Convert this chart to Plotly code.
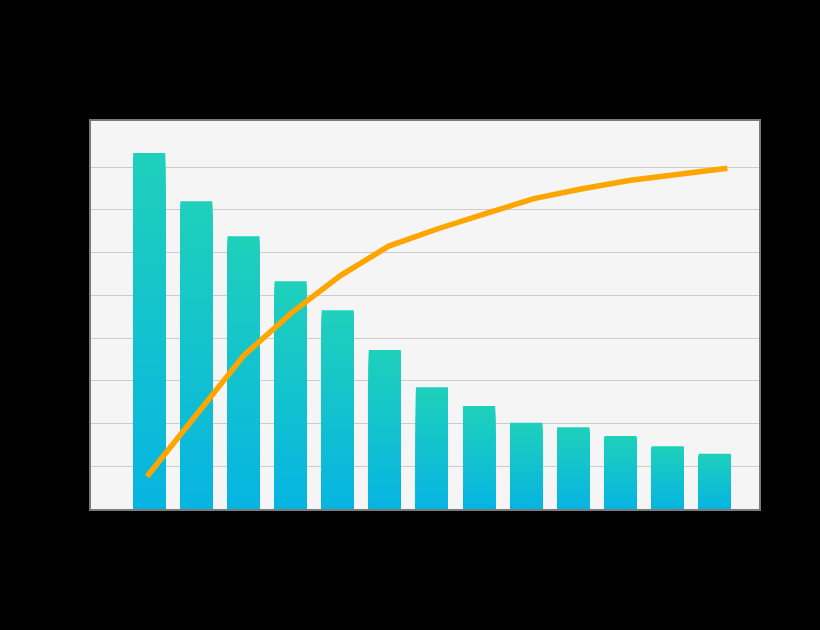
import plotly.graph_objects as go

# bar values (descending) and the cumulative line
categories = list(range(13))
values = [83.3, 72.0, 63.8, 53.3, 46.5, 37.2, 28.5, 24.1, 20.2, 19.1, 17.1, 14.7, 12.9]
line_x = list(range(13))
line_y = [7.6, 21.6, 35.9, 46.0, 54.6, 61.5, 65.5, 69.1, 72.6, 74.9, 76.9, 78.3, 79.7]
grid_ticks = [10, 20, 30, 40, 50, 60, 70, 80]

top_rgb = (31, 208, 187)
bottom_rgb = (6, 180, 226)
steps = 80

fig = go.Figure()

# fake a vertical gradient: overlay shrinking bars, each a bit bluer
for k in range(steps):
    frac = (steps - k) / steps
    c = [round(b + (t - b) * frac) for t, b in zip(top_rgb, bottom_rgb)]
    fig.add_trace(go.Bar(
        x=categories,
        y=[v * frac for v in values],
        marker={'color': 'rgb(%d,%d,%d)' % tuple(c), 'line': {'width': 0}, 'opacity': 1},
        showlegend=False, hoverinfo='skip'))

fig.add_trace(go.Scatter(
    x=line_x, y=line_y, xaxis='x2', mode='lines',
    line={'color': '#ffa500', 'width': 5.5},
    showlegend=False))

fig.update_layout(
    width=820, height=630,
    margin={'l': 91, 'r': 61, 't': 121, 'b': 121},
    paper_bgcolor='black',
    plot_bgcolor='#f5f5f5',
    barmode='overlay',
    bargap=0.32,
    xaxis={'range': [-1.236, 12.94], 'showticklabels': False, 'showgrid': False,
           'zeroline': False, 'showline': True, 'mirror': True,
           'linecolor': '#7a7a7a', 'linewidth': 2, 'ticks': ''},
    xaxis2={'range': [-1.157, 12.653], 'overlaying': 'x', 'visible': False},
    yaxis={'range': [0, 90.76], 'tickvals': grid_ticks, 'showticklabels': False,
           'showgrid': True, 'gridcolor': '#cccccc', 'gridwidth': 1,
           'zeroline': False, 'showline': True, 'mirror': True,
           'linecolor': '#7a7a7a', 'linewidth': 2, 'ticks': ''},
)

# drop the browser's default body margin so the chart sits at the corner
fig.write_html("out.html",
               config={'displayModeBar': False},
               post_script="document.body.style.margin='0';"
                           "document.body.style.background='black';")
